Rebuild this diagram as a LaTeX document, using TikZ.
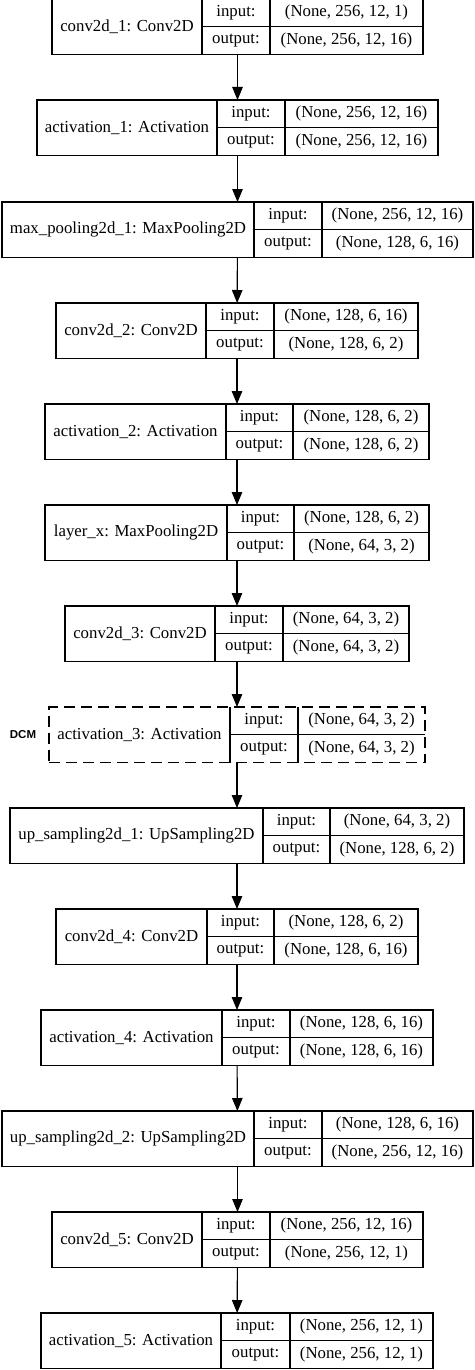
\documentclass[tikz,border=0pt]{standalone}
\usepackage{fontspec}
\setmainfont{Liberation Serif}
\setsansfont{Liberation Sans}
\usepackage{tikz}
\usetikzlibrary{arrows.meta,%
                positioning}

% one record of the model graph
% #1 id, #2 top, #3 left, #4 first rule, #5 second rule, #6 right,
% #7 layer text, #8 input shape, #9 output shape
\newcommand{\Layer}[9]{%
  \node[box, minimum width=(#6-#3)*1pt, anchor=north west] (#1) at (#3,#2) {};
  \node[cell, minimum width=(#4-#3)*1pt, anchor=north west] (#1-name) at (#3,#2) {#7};
  \node[cell, half, minimum width=(#5-#4)*1pt, anchor=north west] (#1-inl) at (#4,#2) {input:};
  \node[cell, half, minimum width=(#5-#4)*1pt, anchor=south west] (#1-outl) at (#4,#2+55.5) {output:};
  \node[cell, half, minimum width=(#6-#5)*1pt, anchor=north west] (#1-in) at (#5,#2) {#8};
  \node[cell, half, minimum width=(#6-#5)*1pt, anchor=south west] (#1-out) at (#5,#2+55.5) {#9};
  \draw (#1-inl.north west) -- (#1-outl.south west);
  \draw (#1-in.north west) -- (#1-out.south west);
  \draw (#1-inl.south west) -- (#1-in.south east);
}

\tikzset{box/.style={draw, rectangle, inner sep=0pt, outer sep=0pt, minimum height=55.5pt},
         cell/.style={rectangle, inner sep=0pt, outer sep=0pt, minimum height=55.5pt},
         half/.style={minimum height=27.75pt},
         arr/.style={-{Triangle[width=10.5pt,length=13pt]}}}

\begin{document}
\begin{tikzpicture}[x=1pt,y=-1pt,line width=1.1pt,
                    font=\fontsize{16.8}{20}\selectfont]

  \fill[white] (0,0) rectangle (474,1370);
  \useasboundingbox (0,0) rectangle (474,1370);

  \Layer{conv1}{-1.2}{52}{202}{270}{423}{conv2d\_1: Conv2D}{(None, 256, 12, 1)}{(None, 256, 12, 16)}
  \Layer{act1}{100}{37}{217}{285}{438}{activation\_1: Activation}{(None, 256, 12, 16)}{(None, 256, 12, 16)}
  \Layer{pool1}{202}{2}{254}{322}{473}{max\_pooling2d\_1: MaxPooling2D}{(None, 256, 12, 16)}{(None, 128, 6, 16)}
  \Layer{conv2}{303}{56}{206}{274}{418}{conv2d\_2: Conv2D}{(None, 128, 6, 16)}{(None, 128, 6, 2)}
  \Layer{act2}{404}{45}{226}{293}{429}{activation\_2: Activation}{(None, 128, 6, 2)}{(None, 128, 6, 2)}
  \Layer{layerx}{505}{45}{227}{294}{429}{layer\_x: MaxPooling2D}{(None, 128, 6, 2)}{(None, 64, 3, 2)}
  \Layer{conv3}{606}{65}{215}{283}{409}{conv2d\_3: Conv2D}{(None, 64, 3, 2)}{(None, 64, 3, 2)}
  \begin{scope}[box/.append style={dashed, dash pattern=on 11pt off 6pt}]
  \Layer{act3}{707}{49}{230}{298}{425}{activation\_3: Activation}{(None, 64, 3, 2)}{(None, 64, 3, 2)}
  \end{scope}
  \Layer{up1}{808}{10}{263}{330}{464}{up\_sampling2d\_1: UpSampling2D}{(None, 64, 3, 2)}{(None, 128, 6, 2)}
  \Layer{conv4}{909}{56}{207}{274}{418}{conv2d\_4: Conv2D}{(None, 128, 6, 2)}{(None, 128, 6, 16)}
  \Layer{act4}{1010}{41}{222}{290}{433}{activation\_4: Activation}{(None, 128, 6, 16)}{(None, 128, 6, 16)}
  \Layer{up2}{1111}{2}{254}{322}{473}{up\_sampling2d\_2: UpSampling2D}{(None, 128, 6, 16)}{(None, 256, 12, 16)}
  \Layer{conv5}{1212}{52}{202}{270}{423}{conv2d\_5: Conv2D}{(None, 256, 12, 16)}{(None, 256, 12, 1)}
  \Layer{act5}{1313}{41}{221}{290}{433}{activation\_5: Activation}{(None, 256, 12, 1)}{(None, 256, 12, 1)}

  \node[font=\sffamily\bfseries\fontsize{11.5}{13}\selectfont, left=9pt of act3.west] (dcm) {DCM};

  \draw[arr] (conv1) -- (act1);
  \draw[arr] (act1) -- (pool1);
  \draw[arr] (pool1) -- (conv2);
  \draw[arr] (conv2) -- (act2);
  \draw[arr] (act2) -- (layerx);
  \draw[arr] (layerx) -- (conv3);
  \draw[arr] (conv3) -- (act3);
  \draw[arr] (act3) -- (up1);
  \draw[arr] (up1) -- (conv4);
  \draw[arr] (conv4) -- (act4);
  \draw[arr] (act4) -- (up2);
  \draw[arr] (up2) -- (conv5);
  \draw[arr] (conv5) -- (act5);

\end{tikzpicture}
\end{document}
